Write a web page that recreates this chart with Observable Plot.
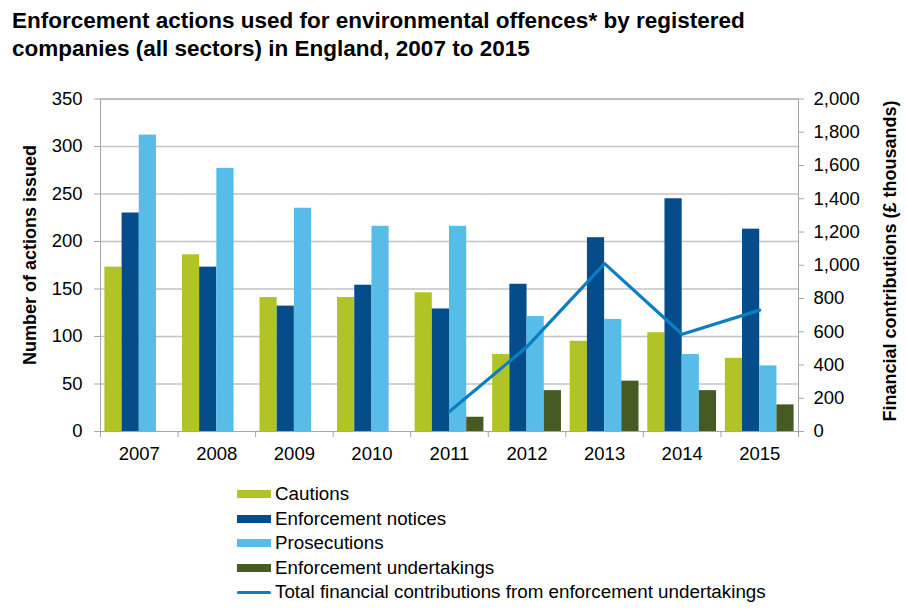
<!DOCTYPE html>
<html>
<head>
<meta charset="utf-8">
<script src="https://cdn.jsdelivr.net/npm/d3@7"></script>
<script src="https://cdn.jsdelivr.net/npm/@observablehq/plot@0.6"></script>
<style>
  html, body { margin: 0; padding: 0; background: #fff; }
  body { width: 907px; height: 615px; position: relative; overflow: hidden; font-family: "Liberation Sans", Arial, sans-serif; color: #000; }
  #title { position: absolute; left: 12px; top: 6.5px; font-size: 22.5px; line-height: 28px; font-weight: bold; white-space: nowrap; }
  #chart { position: absolute; left: 0; top: 70px; width: 907px; height: 410px; }
  #chart svg { position: absolute; left: 0; top: 0; }
  .ytitle { position: absolute; font-size: 18px; font-weight: bold; white-space: nowrap; line-height: 20px;
            transform: translate(-50%, -50%) rotate(-90deg); }
  #legend { position: absolute; left: 237px; top: 481.75px; font-size: 18.8px; }
  .row { height: 24.5px; display: flex; align-items: center; white-space: nowrap; }
  .sw { width: 34px; margin-right: 4px; flex: none; }
</style>
</head>
<body>
<div id="title">Enforcement actions used for environmental offences* by registered<br>companies (all sectors) in England, 2007 to 2015</div>
<div id="chart"></div>
<div id="ytitleLeft" class="ytitle" style="left:29.5px; top:255px;"></div>
<div id="ytitleRight" class="ytitle" style="left:890px; top:261px;"></div>
<div id="legend"></div>
<script>
// ---- data ----
const years = ["2007", "2008", "2009", "2010", "2011", "2012", "2013", "2014", "2015"];
const cautions = [173, 186, 141, 141, 146, 81, 95, 104, 77];
const enforcementNotices = [230, 173, 132, 154, 129, 155, 204, 245, 213];
const prosecutions = [312, 277, 235, 216, 216, 121, 118, 81, 69];
const enforcementUndertakings = [null, null, null, null, 15, 43, 53, 43, 28];
const financialContributions = [null, null, null, null, 120, 510, 1010, 585, 730]; // £ thousands
const seriesNames = ["Cautions", "Enforcement notices", "Prosecutions", "Enforcement undertakings"];
const lineName = "Total financial contributions from enforcement undertakings";
const leftTitle = "Number of actions issued";
const rightTitle = "Financial contributions (£ thousands)";
const leftTicks = [0, 50, 100, 150, 200, 250, 300, 350];
const rightTicks = [0, 200, 400, 600, 800, 1000, 1200, 1400, 1600, 1800, 2000];
const leftMax = 350;
const rightMax = 2000;

// ---- styles ----
const seriesColors = ["#B2C326", "#054D8A", "#57BCE7", "#465A23"];
const lineColor = "#0B7DC2";
const gridColor = "#C3C3C3";
const axisColor = "#A6A6A6";
const font = "Liberation Sans, Arial, sans-serif";

const W = 907, H = 410;
const M = {marginLeft: 100, marginRight: 109, marginTop: 28.5, marginBottom: 49};

const seriesValues = [cautions, enforcementNotices, prosecutions, enforcementUndertakings];
const rows = [];
years.forEach((yr, i) => {
  seriesNames.forEach((s, j) => {
    const v = seriesValues[j][i];
    if (v != null) rows.push({year: yr, series: s, value: v});
  });
});
const toLeft = v => v * leftMax / rightMax;
const lineRows = years.map((yr, i) => ({pos: i + 0.5, value: financialContributions[i]}))
  .filter(d => d.value != null)
  .map(d => ({pos: d.pos, y: toLeft(d.value)}));

// bars (faceted by year)
const bars = Plot.plot({
  width: W, height: H, ...M,
  style: {fontFamily: font, background: "transparent"},
  facet: {data: rows, x: "year"},
  fx: {domain: years, padding: 0, round: false, axis: null, label: null},
  x: {domain: seriesNames, paddingInner: 0, paddingOuter: 0.255, round: false, axis: null},
  y: {domain: [0, leftMax], axis: null},
  color: {domain: seriesNames, range: seriesColors},
  marks: [
    Plot.ruleY(leftTicks.slice(1), {stroke: gridColor, strokeWidth: 1.3}),
    Plot.barY(rows, {x: "series", y: "value", fill: "series"})
  ]
});

// axes + line overlay
const fmt = d3.format(",");
const overlay = Plot.plot({
  width: W, height: H, ...M,
  style: {fontFamily: font, background: "transparent", color: "#000"},
  x: {type: "linear", domain: [0, years.length], axis: null},
  y: {domain: [0, leftMax], axis: null},
  marks: [
    Plot.frame({stroke: axisColor, strokeWidth: 1}),
    Plot.axisY(leftTicks, {anchor: "left", tickSize: 6, tickPadding: 12, fontSize: 18.5, stroke: axisColor, label: null}),
    Plot.axisY(rightTicks.map(toLeft), {anchor: "right", tickSize: 5, tickPadding: 10, fontSize: 18.5, stroke: axisColor, label: null,
      tickFormat: d => fmt(Math.round(d * rightMax / leftMax))}),
    Plot.axisX(d3.range(years.length + 1), {tickSize: 6, stroke: axisColor, tickFormat: () => "", label: null}),
    Plot.axisX(years.map((y, i) => i + 0.5), {tickSize: 0, tickPadding: 15, fontSize: 18.5, label: null,
      tickFormat: d => years[Math.round(d - 0.5)]}),
    Plot.line(lineRows, {x: "pos", y: "y", stroke: lineColor, strokeWidth: 3.2})
  ]
});

const chart = document.getElementById("chart");
chart.appendChild(bars);
chart.appendChild(overlay);

document.getElementById("ytitleLeft").textContent = leftTitle;
document.getElementById("ytitleRight").textContent = rightTitle;

// legend
const legend = document.getElementById("legend");
seriesNames.forEach((s, j) => {
  const r = document.createElement("div");
  r.className = "row";
  r.innerHTML = `<span class="sw" style="height:8px;background:${seriesColors[j]}"></span><span>${s}</span>`;
  legend.appendChild(r);
});
const lr = document.createElement("div");
lr.className = "row";
lr.innerHTML = `<span class="sw" style="height:3px;background:${lineColor};border-radius:1.5px"></span><span>${lineName}</span>`;
legend.appendChild(lr);
</script>
</body>
</html>
